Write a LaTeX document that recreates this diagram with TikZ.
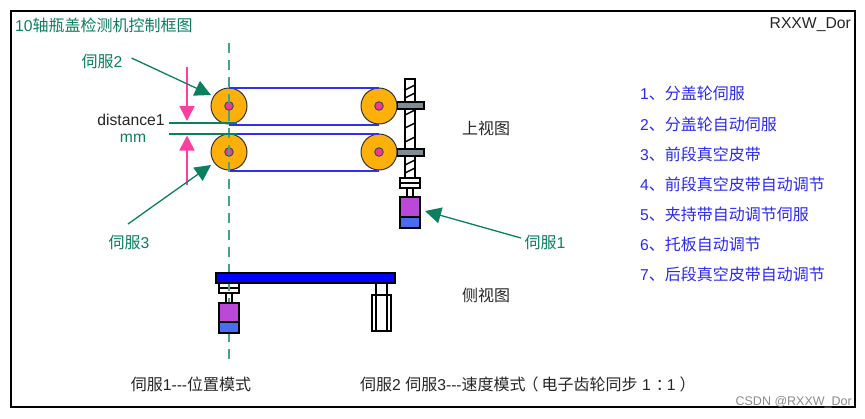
\documentclass[tikz,border=0pt]{standalone}
\usepackage{fontspec}
\setmainfont{Liberation Sans}
\newfontfamily\cjk{Noto Sans CJK SC}
\usetikzlibrary{arrows.meta}
\definecolor{tealg}{HTML}{0B8060}
\definecolor{orangep}{HTML}{FDB00A}
\definecolor{pinkh}{HTML}{F0389A}
\definecolor{pinka}{HTML}{FF3FA0}
\definecolor{purplem}{HTML}{BB48D8}
\definecolor{bluem}{HTML}{4A6CF0}
\definecolor{grayb}{HTML}{7F8C94}
\definecolor{beltb}{HTML}{3030EE}
\definecolor{listb}{HTML}{2A2AF0}
\newcommand{\cn}[1]{{\cjk\fontsize{16}{18}\selectfont #1}}
\tikzset{
  txt/.style={inner sep=0pt,font=\fontsize{15.7}{18}\selectfont},
  pulley/.style={circle,draw=black!80,line width=1pt,fill=orangep,minimum size=36pt,inner sep=0pt},
  hub/.style={circle,draw=black!70,line width=1pt,fill=pinkh,minimum size=8.5pt,inner sep=0pt},
  belt/.style={beltb,line width=2pt},
  part/.style={draw=black,line width=2pt},
  centre/.style={tealg!75,line width=1.8pt,dash pattern=on 9.5pt off 7.5pt},
  callout/.style={tealg,line width=1.3pt,-{Triangle[length=16pt,width=16pt]}},
  gapline/.style={tealg,line width=2pt},
  gaparrow/.style={pinka,line width=1.6pt,-{Triangle[length=15pt,width=15pt]}},
  item/.style={txt,anchor=west,listb}
}
\begin{document}
\begin{tikzpicture}[x=1pt,y=-1pt]
\useasboundingbox (0,0) rectangle (865,418);
\fill[white] (0,0) rectangle (865,418);

% frame
\draw[black,line width=2pt] (10.5,10.5) rectangle (855,407);

% texts
\node[txt,anchor=west,tealg] (title) at (15,25) {10\cn{轴瓶盖检测机控制框图}};
\node[txt,anchor=east,black!85] (author) at (851,25) {RXXW\_Dor};
\node[txt,tealg] (s2) at (102,61) {\cn{伺服}2};
\node[txt,tealg] (s3) at (129,242) {\cn{伺服}3};
\node[txt,tealg] (s1) at (545,242) {\cn{伺服}1};
\node[txt,black!85] (dist) at (131,120) {distance1};
\node[txt,tealg] (mm) at (133,138) {mm};
\node[txt,black!85] (top) at (486,128) {\cn{上视图}};
\node[txt,black!85] (side) at (486,295) {\cn{侧视图}};
\node[txt,black!85] (m1) at (191,384) {\cn{伺服}1-{}-{}-\cn{位置模式}};
% full width marks are kerned to sit in the middle of their em box
\node[txt,black!85,anchor=west] (m2) at (360,384) {\cn{伺服}2 \cn{伺服}3-{}-{}-\cn{速度模式\kern-3pt（\kern3pt电子齿轮同步} 1\cn{\kern5pt：\kern-5pt}1\cn{\kern4pt）}};

% list
\node[item] (i1) at (640,93) {1\cn{、分盖轮伺服}};
\node[item] (i2) at (640,124) {2\cn{、分盖轮自动伺服}};
\node[item] (i3) at (640,154) {3\cn{、前段真空皮带}};
\node[item] (i4) at (640,184) {4\cn{、前段真空皮带自动调节}};
\node[item] (i5) at (640,214) {5\cn{、夹持带自动调节伺服}};
\node[item] (i6) at (640,244) {6\cn{、托板自动调节}};
\node[item] (i7) at (640,274) {7\cn{、后段真空皮带自动调节}};

% screw
\draw[part,fill=white] (405,79) rectangle (415,178);
\foreach \y in {90,98,115,128,142,165,173}
  \draw[line width=1.4pt] (405,\y) -- (415,\y-5);
\draw[part,fill=grayb] (397,102) rectangle (424,109);
\draw[part,fill=grayb] (397,149) rectangle (424,156);

% top view motor
\draw[part,fill=white] (400,178) rectangle (420,188);
\draw[part] (400,183) -- (420,183);
\draw[part] (406.5,188) rectangle (413,197);
\draw[part,fill=purplem] (400,197) rectangle (420,217);
\draw[part,fill=bluem] (400,217) rectangle (420,228);

% pulleys and belts
\node[pulley] (pa) at (229,106) {};
\node[pulley] (pb) at (229,152) {};
\node[pulley] (pc) at (379,106) {};
\node[pulley] (pd) at (379,152) {};
\node[hub] (ha) at (pa) {};
\node[hub] (hb) at (pb) {};
\node[hub] (hc) at (pc) {};
\node[hub] (hd) at (pd) {};
\draw[belt] (pa.north) -- (pc.north);
\draw[belt] (pa.south) -- (pc.south);
\draw[belt] (pb.north) -- (pd.north);
\draw[belt] (pb.south) -- (pd.south);

% side view
\draw[part] (219,283) rectangle (239,293);
\draw[part] (219,288) -- (239,288);
\draw[part] (226,293) rectangle (232,303);
\draw[part] (376,283) -- (376,295);
\draw[part] (387,283) -- (387,295);
\draw[part] (372,295) rectangle (391,331);
\draw[part] (376,295) -- (376,331);
\draw[part] (387,295) -- (387,331);

% centre line
\coordinate (ctop) at (229,43);
\coordinate (cbot) at (229,360);
\draw[centre] (ctop) -- (cbot);

% parts that hide the centre line
\draw[part,fill=blue] (216,273) rectangle (395,283);
\draw[part,fill=purplem] (219,303) rectangle (239,322);
\draw[part,fill=bluem] (219,322) rectangle (239,333);

% gap lines and arrows
\coordinate (ga) at (169,123);
\coordinate (gb) at (237,123);
\coordinate (gc) at (169,134);
\coordinate (gd) at (237,134);
\draw[gapline] (ga) -- (gb);
\draw[gapline] (gc) -- (gd);
\coordinate (ua) at (187,67);
\coordinate (ub) at (187,121);
\coordinate (la) at (187,185);
\coordinate (lb) at (187,135.5);
\draw[gaparrow] (ua) -- (ub);
\draw[gaparrow] (la) -- (lb);

% callouts
\coordinate (t2a) at (131.5,58);
\coordinate (t2b) at (211,95);
\coordinate (t3a) at (128,224);
\coordinate (t3b) at (211,165);
\coordinate (t1a) at (521,238);
\coordinate (t1b) at (425,211);
\draw[callout] (t2a) -- (t2b);
\draw[callout] (t3a) -- (t3b);
\draw[callout] (t1a) -- (t1b);

% watermark
\node[inner sep=0pt,anchor=east,black!45,font=\fontsize{12.5}{14}\selectfont] (wm) at (852,402) {CSDN @RXXW\_Dor};
\end{tikzpicture}
\end{document}
